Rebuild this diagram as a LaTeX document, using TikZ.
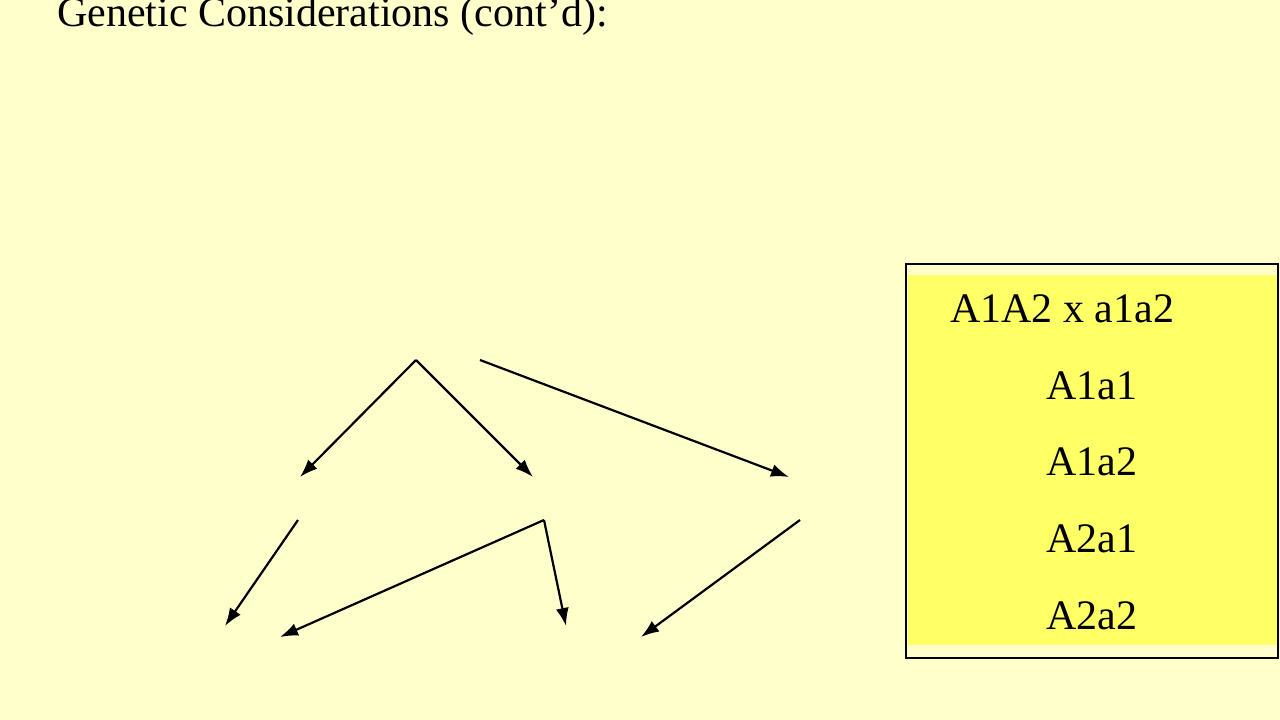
\documentclass[tikz,border=0pt]{standalone}
\usepackage{fontspec}
\setmainfont{Liberation Serif}
\usetikzlibrary{arrows.meta,positioning}
\definecolor{slidebg}{HTML}{FFFFCC}
\definecolor{boxfill}{HTML}{FFFF66}

\begin{document}
\begin{tikzpicture}
    [x=1pt,y=-1pt,
     link/.style={-{Latex[length=18pt,width=13pt]},line width=2.2pt},
     txt/.style={anchor=base west,inner sep=0pt,font=\fontsize{42}{48}\selectfont},
     cross/.style={draw=black,line width=1.8pt,fill=slidebg}]
    \fill[slidebg] (0,0) rectangle (1280,720);
    \useasboundingbox (0,0) rectangle (1280,720);

    \node (title) at (57,27) [txt] {Genetic Considerations (cont’d):};

    % the box of genotypes
    \draw[cross] (906,264) rectangle (1278,658);
    \fill[boxfill] (907.5,275) rectangle (1276.5,645);
    \node (cross) at (950,322) [txt] {A1A2 x a1a2};
    \node (g1) at (1046,399) [txt] {A1a1};
    \node (g2) at (1046,475) [txt] {A1a2};
    \node (g3) at (1046,552) [txt] {A2a1};
    \node (g4) at (1046,629) [txt] {A2a2};

    % arrow ends
    \coordinate (top)    at (416,360);
    \coordinate (topr)   at (480,360);
    \coordinate (mid l)  at (300,477);
    \coordinate (mid c)  at (533,477);
    \coordinate (mid r)  at (789,477);
    \coordinate (src l)  at (298,520);
    \coordinate (src c)  at (544,520);
    \coordinate (src r)  at (800,520);
    \coordinate (low 1)  at (225,626);
    \coordinate (low 2)  at (280,637);
    \coordinate (low 3)  at (566,626);
    \coordinate (low 4)  at (641,637);

    \draw[link] (top) to (mid l);
    \draw[link] (top) to (mid c);
    \draw[link] (topr) to (mid r);
    \draw[link] (src l) to (low 1);
    \draw[link] (src c) to (low 2);
    \draw[link] (src c) to (low 3);
    \draw[link] (src r) to (low 4);
\end{tikzpicture}
\end{document}
